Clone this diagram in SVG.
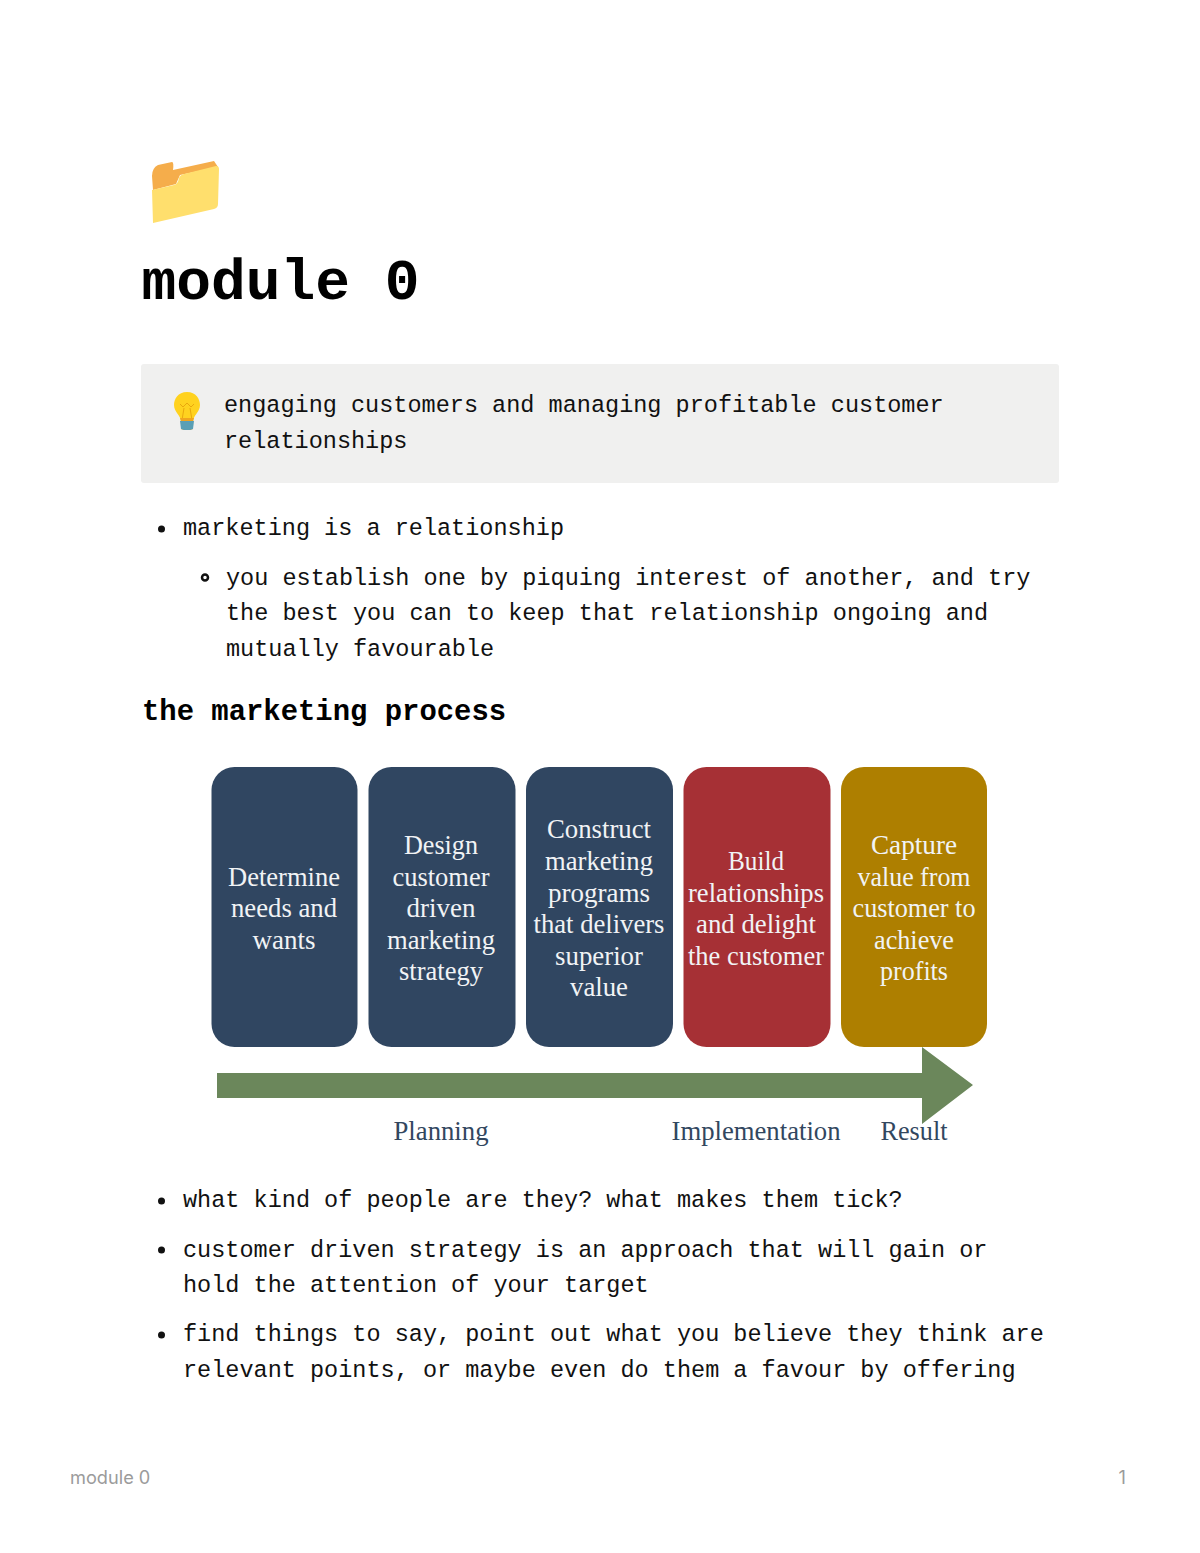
<svg xmlns="http://www.w3.org/2000/svg" width="1200" height="1553" viewBox="0 0 1200 1553">
<style>
.m{font-family:"Liberation Mono",monospace;font-size:23.52px;fill:#111}
.h1{font-family:"Liberation Mono",monospace;font-size:57.9px;font-weight:700;fill:#000}
.h2{font-family:"Liberation Mono",monospace;font-size:28.9px;font-weight:700;fill:#000}
.s{font-family:"Liberation Serif",serif;font-size:27px;fill:#f1f3f5;text-anchor:middle}
.l{font-family:"Liberation Serif",serif;font-size:27px;fill:#32475f;text-anchor:middle}
.f{font-family:Inter,sans-serif;font-size:18.2px;fill:#9b9b9b}
.navy{fill:#304661}
</style>
<rect width="1200" height="1553" fill="#fff"/>
<g id="folder-icon">
<path d="M152 176Q152 168 158 165L172 162Q174 162 173 170L214 161L218 167L180 175L176 184L153 190Z" fill="#f5ad4b"/>
<path d="M152 190L174 185Q178 184 179 178Q180 175 184 174L216 166Q219 166 219 169L218 204Q218 208 214 209L153 223Z" fill="#ffdf6d"/>
</g>
<text class="h1" x="141.500" y="299">module 0</text>
<g id="callout">
<rect x="141" y="364" width="918" height="119" rx="3" fill="#f0f0ef"/>
<g id="bulb-icon">
<path d="M187 392C178 392 174 399 174 405C174 412 181 416 181 421H193C193 416 200 412 200 405C200 399 196 392 187 392Z" fill="#ffd21f"/>
<path d="M180 404L183 407L187 403L191 407L194 404M184 408L182 420M190 408L192 420" fill="none" stroke="#e9a80d" stroke-width="1"/>
<path d="M180 418H194L192 426L193 429L190 430H184L181 429L182 426Z" fill="#f0a51e"/>
<path d="M180 421H194L193 429L190 430H184L181 429Z" fill="#5a9fb5"/>
</g>
<text class="m" x="224" y="412">engaging customers and managing profitable customer</text>
<text class="m" x="224" y="448">relationships</text>
</g>
<g id="list-1">
<circle cx="161.500" cy="529" r="3.500" fill="#111"/>
<text class="m" x="183" y="535">marketing is a relationship</text>
<circle cx="205" cy="577.500" r="3" fill="#fff" stroke="#111" stroke-width="2.500"/>
<text class="m" x="226" y="585">you establish one by piquing interest of another, and try</text>
<text class="m" x="226" y="620">the best you can to keep that relationship ongoing and</text>
<text class="m" x="226" y="656">mutually favourable</text>
</g>
<text class="h2" x="142" y="720">the marketing process</text>
<g id="step-1"><rect class="navy" x="211.500" y="767" width="146" height="280" rx="23"/>
<text class="s" x="284" y="885.500" textLength="112" lengthAdjust="spacingAndGlyphs">Determine</text><text class="s" x="284" y="916.500" textLength="106" lengthAdjust="spacingAndGlyphs">needs and</text><text class="s" x="284" y="948.500" textLength="63" lengthAdjust="spacingAndGlyphs">wants</text></g>
<g id="step-2"><rect class="navy" x="368.500" y="767" width="147" height="280" rx="23"/>
<text class="s" x="441" y="853.500" textLength="74" lengthAdjust="spacingAndGlyphs">Design</text><text class="s" x="441" y="885.500" textLength="97" lengthAdjust="spacingAndGlyphs">customer</text><text class="s" x="441" y="916.500" textLength="69" lengthAdjust="spacingAndGlyphs">driven</text><text class="s" x="441" y="948.500" textLength="108" lengthAdjust="spacingAndGlyphs">marketing</text><text class="s" x="441" y="979.500" textLength="84" lengthAdjust="spacingAndGlyphs">strategy</text></g>
<g id="step-3"><rect class="navy" x="526" y="767" width="147" height="280" rx="23"/>
<text class="s" x="599" y="837.500" textLength="104" lengthAdjust="spacingAndGlyphs">Construct</text><text class="s" x="599" y="869.500" textLength="108" lengthAdjust="spacingAndGlyphs">marketing</text><text class="s" x="599" y="901.500" textLength="102" lengthAdjust="spacingAndGlyphs">programs</text><text class="s" x="599" y="932.500" textLength="131" lengthAdjust="spacingAndGlyphs">that delivers</text><text class="s" x="599" y="964.500" textLength="88" lengthAdjust="spacingAndGlyphs">superior</text><text class="s" x="599" y="995.500" textLength="58" lengthAdjust="spacingAndGlyphs">value</text></g>
<g id="step-4"><rect x="683.500" y="767" width="147" height="280" rx="23" fill="#a63035"/>
<text class="s" x="756" y="869.500" textLength="56" lengthAdjust="spacingAndGlyphs">Build</text><text class="s" x="756" y="901.500" textLength="136" lengthAdjust="spacingAndGlyphs">relationships</text><text class="s" x="756" y="932.500" textLength="120" lengthAdjust="spacingAndGlyphs">and delight</text><text class="s" x="756" y="964.500" textLength="136" lengthAdjust="spacingAndGlyphs">the customer</text></g>
<g id="step-5"><rect x="841" y="767" width="146" height="280" rx="23" fill="#ae7f00"/>
<text class="s" x="914" y="853.500" textLength="86" lengthAdjust="spacingAndGlyphs">Capture</text><text class="s" x="914" y="885.500" textLength="113" lengthAdjust="spacingAndGlyphs">value from</text><text class="s" x="914" y="916.500" textLength="123" lengthAdjust="spacingAndGlyphs">customer to</text><text class="s" x="914" y="948.500" textLength="80" lengthAdjust="spacingAndGlyphs">achieve</text><text class="s" x="914" y="979.500" textLength="68" lengthAdjust="spacingAndGlyphs">profits</text></g>
<g id="connectors">
<path d="M217 1073H922V1047L973 1085L922 1124V1098H217Z" fill="#6b875b"/>
</g>
<text class="l" x="441" y="1140" textLength="95" lengthAdjust="spacingAndGlyphs">Planning</text>
<text class="l" x="756" y="1140" textLength="169" lengthAdjust="spacingAndGlyphs">Implementation</text>
<text class="l" x="914" y="1140" textLength="67" lengthAdjust="spacingAndGlyphs">Result</text>
<g id="list-2">
<circle cx="161.500" cy="1201" r="3.500" fill="#111"/>
<text class="m" x="183" y="1207">what kind of people are they? what makes them tick?</text>
<circle cx="161.500" cy="1250" r="3.500" fill="#111"/>
<text class="m" x="183" y="1257">customer driven strategy is an approach that will gain or</text>
<text class="m" x="183" y="1292">hold the attention of your target</text>
<circle cx="161.500" cy="1335" r="3.500" fill="#111"/>
<text class="m" x="183" y="1341">find things to say, point out what you believe they think are</text>
<text class="m" x="183" y="1377">relevant points, or maybe even do them a favour by offering</text>
</g>
<text class="f" x="70" y="1484">module 0</text>
<text class="f" x="1118.500" y="1484">1</text>
</svg>
